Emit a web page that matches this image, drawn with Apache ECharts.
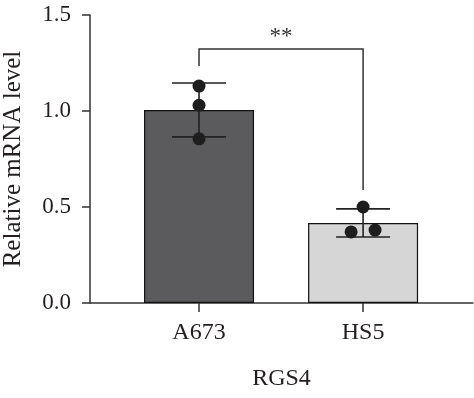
<!DOCTYPE html>
<html>
<head>
<meta charset="utf-8">
<script src="https://cdn.jsdelivr.net/npm/echarts@6/dist/echarts.min.js"></script>
<style>
  html, body { margin: 0; padding: 0; background: #fff; }
  #chart { width: 474px; height: 398px; }
</style>
</head>
<body>
<div id="chart"></div>
<script>
// data
const categories = ['A673', 'HS5']
const means = [1.005, 0.417]
const errUpper = [1.146, 0.49]
const errLower = [0.865, 0.344]
const pointsA673 = [1.13, 1.03, 0.855]
const pointsHS5 = [0.50, 0.37, 0.38]
// significance bracket: top, left leg end, right leg end
const bracket = [1.323, 1.234, 0.589]
const sigLabel = '**'

const font = 'Liberation Serif'
const barColors = ['#5b5b5d', '#d6d6d6']
const jitter = [[0, 0, 0], [0, -0.073, 0.073]]

const chart = echarts.init(document.getElementById('chart'))

const barData = means.map((v, i) => ({
    value: [i + 1, v],
    itemStyle: { color: barColors[i] }
}))

const dotData = []
;[pointsA673, pointsHS5].forEach((pts, i) => {
    pts.forEach((v, j) => {
        dotData.push([i + 1 + jitter[i][j], v])
    })
})

const errData = means.map((v, i) => [i + 1, errLower[i], errUpper[i]])

const option = {
    animation: false,
    backgroundColor: '#fff',
    grid: { left: 90, right: 1, top: 15, bottom: 95, outerBoundsMode: 'none' },
    xAxis: {
        type: 'value',
        min: 0.3354,
        max: 2.67,
        name: 'RGS4',
        nameLocation: 'middle',
        nameGap: 64,
        nameTextStyle: { fontFamily: font, fontSize: 24, color: '#231f20' },
        axisLine: { show: true, lineStyle: { color: '#333', width: 1.5 } },
        axisTick: { show: true, customValues: [1, 2], length: 9, lineStyle: { color: '#333', width: 1.5 } },
        axisLabel: {
            customValues: [1, 2],
            formatter: v => categories[Math.round(v) - 1],
            fontFamily: font, fontSize: 24, color: '#231f20', margin: 18
        },
        splitLine: { show: false }
    },
    yAxis: {
        type: 'value',
        min: 0,
        max: 1.5,
        interval: 0.5,
        name: 'Relative mRNA level',
        nameLocation: 'middle',
        nameGap: 64,
        nameRotate: 90,
        nameTextStyle: { fontFamily: font, fontSize: 25, color: '#231f20' },
        axisLine: { show: true, lineStyle: { color: '#333', width: 1.5 } },
        axisTick: { show: true, length: 8, lineStyle: { color: '#333', width: 1.5 } },
        axisLabel: {
            formatter: v => v.toFixed(1),
            fontFamily: font, fontSize: 23, color: '#231f20', margin: 19
        },
        splitLine: { show: false }
    },
    series: [
        {
            type: 'bar',
            barWidth: 110,
            data: barData,
            itemStyle: { borderColor: '#111', borderWidth: 1.2 },
            z: 1
        },
        {
            type: 'custom',
            renderItem(params, api) {
                const x = api.value(0)
                const lo = api.coord([x, api.value(1)])
                const hi = api.coord([x, api.value(2)])
                const half = 27
                const style = { stroke: '#222', lineWidth: 1.6 }
                return {
                    type: 'group',
                    children: [
                        { type: 'line', shape: { x1: lo[0], y1: lo[1], x2: hi[0], y2: hi[1] }, style },
                        { type: 'line', shape: { x1: hi[0] - half, y1: hi[1], x2: hi[0] + half, y2: hi[1] }, style },
                        { type: 'line', shape: { x1: lo[0] - half, y1: lo[1], x2: lo[0] + half, y2: lo[1] }, style }
                    ]
                }
            },
            data: errData,
            z: 2
        },
        {
            type: 'scatter',
            symbol: 'circle',
            symbolSize: 13,
            itemStyle: { color: '#1e1e1e', opacity: 1 },
            data: dotData,
            z: 3
        },
        {
            type: 'custom',
            renderItem(params, api) {
                const top1 = api.coord([1, bracket[0]])
                const top2 = api.coord([2, bracket[0]])
                const leg1 = api.coord([1, bracket[1]])
                const leg2 = api.coord([2, bracket[2]])
                const style = { stroke: '#333', lineWidth: 1.5, fill: null }
                return {
                    type: 'group',
                    children: [
                        {
                            type: 'polyline',
                            shape: { points: [leg1, top1, top2, leg2] },
                            style
                        },
                        {
                            type: 'text',
                            style: {
                                text: sigLabel,
                                x: (top1[0] + top2[0]) / 2,
                                y: top1[1] - 1,
                                align: 'center',
                                verticalAlign: 'bottom',
                                font: '23px "' + font + '"',
                                fill: '#333'
                            }
                        }
                    ]
                }
            },
            data: [[1.5, bracket[0]]],
            z: 4
        }
    ]
}

chart.setOption(option)
</script>
</body>
</html>
